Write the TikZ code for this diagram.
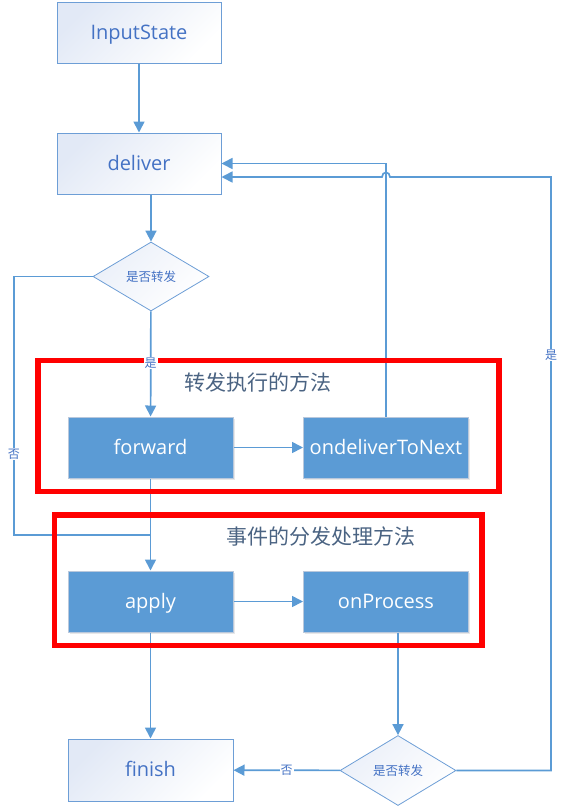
\documentclass[tikz,border=0pt]{standalone}
\usepackage{fontspec}
\setmainfont{Open Sans}
\newfontfamily\cjk{Noto Sans CJK SC}
\usetikzlibrary{shapes.geometric, arrows.meta, shadows}
\definecolor{Flow_Blue}{HTML}{5B9BD5}
\definecolor{Edge_Blue}{HTML}{6D9ED6}
\definecolor{Text_Blue}{HTML}{4472C4}
\definecolor{Title_Slate}{HTML}{4A6382}
\definecolor{Tint_Blue}{HTML}{E2E9F6}
\definecolor{Pale_Border}{HTML}{B9C8DC}
\definecolor{Frame_Red}{HTML}{FF0000}

\begin{document}
\begin{tikzpicture}[x=1pt, y=-1pt,
    plainbox/.style={draw=Edge_Blue, line width=1pt, top color=Tint_Blue, bottom color=white, shading angle=45,
        text=Text_Blue, font=\fontsize{20}{24}\selectfont, text height=14pt, text depth=1pt,
        minimum width=164pt, minimum height=61pt, inner sep=0pt},
    solidbox/.style={draw=Pale_Border, line width=1pt, fill=Flow_Blue, text=white, font=\fontsize{20}{24}\selectfont,
        text height=14pt, text depth=1pt, minimum width=165pt, minimum height=61pt, inner sep=0pt,
        drop shadow={opacity=0.18, shadow xshift=1.5pt, shadow yshift=-2pt}},
    decision/.style={diamond, aspect=1.68, draw=Edge_Blue, line width=0.8pt, top color=Tint_Blue!70, bottom color=white,
        shading angle=45, minimum width=116pt, minimum height=69pt, inner sep=0pt,
        text=Text_Blue, font=\cjk\fontsize{12.5}{15}\selectfont},
    flow/.style={draw=Flow_Blue, line width=1.7pt, -{Triangle[length=11pt, width=11pt]}},
    link/.style={draw=Flow_Blue, line width=1.7pt},
    tag/.style={fill=white, inner sep=1pt, text=Text_Blue, font=\cjk\fontsize{12}{14}\selectfont},
    frame/.style={draw=Frame_Red, line width=5.5pt},
    heading/.style={text=Title_Slate, font=\cjk\fontsize{21}{24}\selectfont}]

    \useasboundingbox (0,0) rectangle (565,807);

    % === Main column ===
    \node[plainbox] (input)   at (139, 32.5)  {InputState};
    \node[plainbox] (deliver) at (139, 163.5) {deliver};
    \node[decision] (ask1)    at (151, 276.5) {是否转发};

    % === Forwarding group ===
    \node[solidbox] (forward) at (150.5, 447.5) {forward};
    \node[solidbox] (next)    at (386, 447.5)   {ondeliverToNext};

    % === Dispatch group ===
    \node[solidbox] (apply)   at (150.5, 601.5) {apply};
    \node[solidbox] (process) at (386, 601.5)   {onProcess};

    % === Bottom row ===
    \node[plainbox, minimum width=165pt, minimum height=62pt] (finish) at (150.5, 770) {finish};
    \node[decision, minimum height=70pt] (ask2) at (398, 770.5) {是否转发};

    % === Connectors ===
    \coordinate (nojoin)  at (14, 535);
    \coordinate (yesturn) at (551, 177);
    \coordinate (hop)     at (next.north |- yesturn);

    \draw[flow] (input) -- (deliver);
    \draw[flow] (ask1.north |- deliver.south) -- (ask1.north);
    \draw[link] (ask1.west) -| node[tag, pos=0.843] {否} (nojoin) -- (apply.north |- nojoin);
    \draw[flow] (forward) -- (apply);
    \draw[flow] (forward) -- (next);
    \draw[flow] (next.north) |- (deliver.east);
    \draw[flow] (apply) -- (process);
    \draw[flow] (apply) -- (finish);
    \draw[flow] (ask2.north |- process.south) -- (ask2.north);
    \draw[flow] (ask2) -- node[tag] {否} (finish);
    \draw[flow] (ask2.east) -| node[tag, pos=0.85] {是} (yesturn)
        -- ([xshift=4pt]hop) .. controls ([xshift=4pt, yshift=6pt]hop) and ([xshift=-4pt, yshift=6pt]hop) .. ([xshift=-4pt]hop)
        -- (deliver.east |- yesturn);

    % === Red frames with titles ===
    \draw[frame] (38, 360.5) rectangle (499, 491.5);
    \node[heading] (title1) at (258, 382) {转发执行的方法};
    \draw[frame] (54.5, 515) rectangle (482, 645.5);
    \node[heading] (title2) at (320.5, 536) {事件的分发处理方法};

    \draw[flow] (ask1) -- node[tag, pos=0.49] {是} (forward);

\end{tikzpicture}
\end{document}
